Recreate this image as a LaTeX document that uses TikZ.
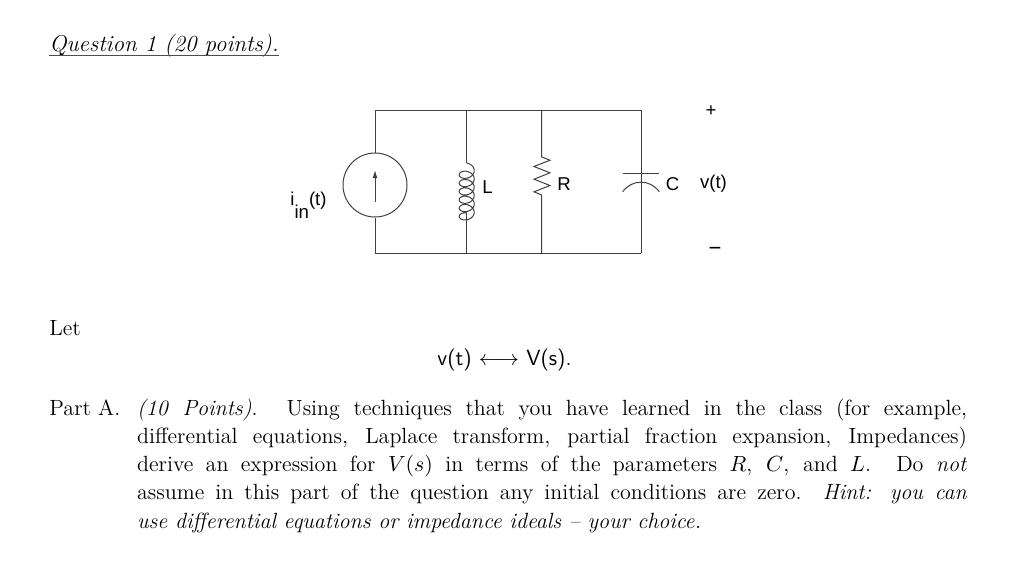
\documentclass[tikz,border=0pt]{standalone}
\usepackage{amsmath}
\usepackage{xcolor}
\usepackage{fontspec}
\newfontfamily\circfont{Liberation Sans}
\usetikzlibrary{arrows.meta}

\tikzset{
  wire/.style={color=black!75, line width=0.5pt},
  circlabel/.style={inner sep=0pt, font=\circfont\fontsize{9.3}{11}\selectfont},
  bodytext/.style={inner sep=0pt, font=\fontsize{11}{14.15}\selectfont}
}

\begin{document}
\begin{tikzpicture}[x=0.5pt,y=0.5pt,yscale=-1,xscale=1]

\useasboundingbox (0,0) rectangle (1024,575);

% corners of the circuit
\coordinate (tl) at (375,110);
\coordinate (tr) at (641,110);
\coordinate (bl) at (375,253.3);
\coordinate (br) at (641,253.3);

\coordinate (tL) at (466.7,110);
\coordinate (bL) at (466.7,253.3);
\coordinate (tR) at (541.7,110);
\coordinate (bR) at (541.7,253.3);

\draw [wire]   (tl) -- (tr) -- (br) ;

\draw [wire]   (bl) -- (br) ;


% current source
\node [circle, draw, wire, minimum size=32pt, inner sep=0pt] (src) at (375,185) {};

\draw [wire]   (tl) -- (src.north) ;

\draw [wire]   (src.south) -- (bl) ;

\coordinate (arrtail) at (375,202);
\coordinate (arrhead) at (375,170);
\draw [wire, -{Latex[length=4pt,width=2.4pt]}]   (arrtail) -- (arrhead) ;


% inductor
\coordinate (Ltop) at (466.7,163);
\coordinate (Lbot) at (466.7,213);

\draw [wire]   (tL) -- (Ltop) ;

\draw [wire]   plot [domain=0:37.699, samples=300, variable=\t] ({466.7+7.5*sin(\t r)}, {163+1.326*\t+5.5*(1-cos(\t r))}) ;

\draw [wire]   (Lbot) -- (bL) ;


% resistor
\draw [wire]   (tR) -- (541.7,157) -- (550,160.2) -- (534,166.5) -- (550,172.8) -- (534,179.2) -- (550,185.5) -- (534,191.8) -- (541.7,195) -- (bR) ;


% capacitor
\coordinate (Ctop) at (641,173.3);
\coordinate (Cbot) at (641,182);

\draw [wire]   (622.7,173.3) -- (659.3,173.3) ;

\draw [wire]   (622.7,191.7) .. controls (632,179) and (650,179) .. (659.3,191.7) ;

\draw [wire]   (Cbot) -- (br) ;


% circuit labels
\node [circlabel, anchor=base west] (iin) at (290,205) {i\raisebox{-6.5pt}{in}(t)};

\node [circlabel] (lblL) at (487.5,187) {L};

\node [circlabel] (lblR) at (564,184) {R};

\node [circlabel] (lblC) at (672.5,184) {C};

\node [circlabel] (vt) at (713.5,183.5) {v(t)};

\node [circlabel] (plus) at (711,111.5) {+};

\node [circlabel, font=\circfont\fontsize{11}{12}\selectfont] (minus) at (715,251) {−};


% text
\node [bodytext, anchor=base west, font=\fontsize{11.5}{14}\selectfont] (quest) at (49,51) {\textit{Question 1 (20 points).}};
\draw [color=black!70, line width=0.5pt]   ([yshift=2.35pt]quest.base west) -- ([yshift=2.35pt]quest.base east) ;

\node [bodytext, anchor=base west] (let) at (49,335) {Let};

\node [bodytext, anchor=base west] (laplace) at (437,365) {\textsf{v(t)} $\longleftrightarrow$ \textsf{V(s)}.};

\node [bodytext, anchor=base west] (partA) at (49,415) {Part A.};

\node [bodytext, anchor=base west] (body) at (136.7,415) {\parbox[t]{415pt}{\fontsize{11}{14.15}\selectfont
\textit{(10 Points)}. Using techniques that you have learned in the class (for example,\linebreak
differential equations, Laplace transform, partial fraction expansion, Impedances)\linebreak
derive an expression for $V(s)$ in terms of the parameters $R$, $C$, and $L$\@. Do \textit{not}\linebreak
assume in this part of the question any initial conditions are zero. \textit{Hint: you can}\linebreak
\textit{use differential equations or impedance ideals -- your choice.}}};

\end{tikzpicture}
\end{document}
